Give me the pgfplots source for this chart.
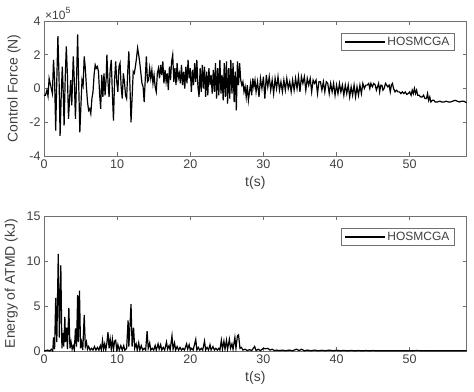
\documentclass[border=0pt]{standalone}
\usepackage{pgfplots}
\pgfplotsset{compat=1.18}
\usepackage{fontspec}
\setmainfont{Liberation Sans}
\definecolor{txt}{HTML}{404040}
\definecolor{axc}{HTML}{707070}
\pgfplotsset{
  mystyle/.style={
    scale only axis, width=422.7pt, height=135pt,
    xmin=0, xmax=57.8, xtick={0,10,20,30,40,50},
    tick pos=both, tick align=inside, major tick length=4pt,
    axis line style={axc, line width=0.8pt},
    every tick/.style={axc, line width=0.6pt},
    tick label style={font=\fontsize{12.5}{14}\selectfont, text=txt},
    label style={font=\fontsize{14}{16}\selectfont, text=txt},
    /pgf/number format/assume math mode=true,
    xlabel={t(s)},
    xlabel style={yshift=-1pt},
    ylabel style={yshift=2pt},
    legend style={at={(0.972,0.91)}, anchor=north east, draw=axc, line width=0.8pt,
      font=\fontsize{12}{13}\selectfont, text=txt, inner xsep=3pt, inner ysep=1.5pt,
      legend cell align=left},
    legend image code/.code={\draw[line width=1.2pt] (0cm,0cm) -- (1.4cm,0cm);},
    clip mode=individual,
  }
}
\begin{document}
\begin{tikzpicture}
\begin{axis}[mystyle, at={(44pt,-21pt)}, anchor=north west,
  ymin=-4, ymax=4, ytick={-4,-2,0,2,4},
  ylabel={Control Force (N)}]
\addplot[black, line width=1.2pt] coordinates {
(0.0,-0.4)(0.2,-0.4)(0.4,-0.1)(0.55,-0.45)(0.7,0.6)(0.85,0.3)(1.0,0.0)(1.15,-0.3)(1.3,1.7)(1.45,0.5)
(1.6,-2.5)(1.75,0.5)(1.9,3.1)(2.05,0.8)(2.2,-2.8)(2.35,-0.5)(2.5,1.3)(2.6,0.2)(2.75,-2.2)(2.9,0.6)
(3.05,2.5)(3.2,0.8)(3.35,-1.8)(3.5,-0.6)(3.65,0.5)(3.8,-1.0)(4.0,1.9)(4.15,0.4)(4.3,-1.8)(4.45,0.5)
(4.6,3.2)(4.75,0.2)(4.9,-2.6)(5.05,-1.0)(5.2,0.5)(5.35,0.2)(5.5,1.9)(5.65,1.2)(5.8,0.1)(5.95,-0.8)
(6.1,-1.3)(6.25,-1.2)(6.4,-1.5)(6.55,-0.6)(6.7,-0.2)(6.85,0.8)(7.0,1.4)(7.15,1.2)(7.3,1.3)(7.45,1.0)
(7.6,-0.3)(7.75,-1.2)(7.9,0.8)(8.05,-0.5)(8.2,0.9)(8.35,-0.4)(8.5,0.6)(8.6,2.0)(8.75,0.4)(8.9,-0.5)
(9.05,1.1)(9.2,1.7)(9.35,-0.3)(9.5,-1.9)(9.65,0.5)(9.8,1.6)(9.95,0.4)(10.1,-0.2)(10.25,1.3)(10.4,1.5)
(10.55,0.1)(10.7,-0.6)(10.85,0.9)(11.0,0.4)(11.15,-0.4)(11.3,-0.6)(11.45,1.0)(11.6,2.2)(11.75,0.2)(11.9,-2.0)
(12.05,-0.5)(12.2,1.0)(12.35,0.9)(12.5,1.3)(12.65,1.8)(12.8,2.4)(12.95,2.0)(13.1,1.5)(13.25,0.9)(13.4,0.3)
(13.55,0.1)(13.7,-0.8)(13.85,0.6)(14.0,1.9)(14.15,0.4)(14.3,0.5)(14.45,1.2)(14.6,0.6)(14.75,1.1)(14.9,0.3)
(15.05,0.8)(15.2,0.1)(15.35,-0.2)(15.5,0.9)(15.65,1.2)(15.8,0.6)(15.95,1.4)(16.1,0.8)(16.25,1.6)(16.4,0.3)
(16.55,1.1)(16.7,0.4)(16.85,0.9)(17.0,-0.1)(17.15,1.3)(17.3,0.5)(17.45,1.6)(17.6,2.0)(17.75,0.4)(17.9,1.2)
(18.05,0.2)(18.2,1.5)(18.35,0.6)(18.5,0.9)(18.65,0.3)(18.8,1.4)(18.95,0.2)(19.1,1.0)(19.25,0.0)(19.4,1.3)
(19.55,0.3)(19.7,1.7)(19.85,0.6)(20.0,1.2)(20.15,-0.2)(20.3,1.1)(20.45,0.2)(20.6,1.5)(20.75,0.4)(20.9,1.7)
(21.05,0.1)(21.2,-0.5)(21.35,1.2)(21.5,-0.2)(21.65,1.4)(21.8,0.0)(21.95,1.3)(22.1,-0.5)(22.25,1.0)(22.4,-0.4)
(22.55,1.2)(22.7,0.2)(22.85,0.8)(23.0,-0.3)(23.15,1.1)(23.3,-0.2)(23.45,1.5)(23.6,-0.6)(23.75,1.2)(23.9,-0.4)
(24.05,1.7)(24.2,-0.3)(24.35,0.8)(24.5,-0.7)(24.65,1.5)(24.8,-0.5)(24.95,1.6)(25.1,-0.9)(25.25,1.2)(25.4,-0.6)
(25.55,1.7)(25.7,-0.3)(25.85,1.5)(26.0,-0.8)(26.15,1.0)(26.3,-1.3)(26.45,1.6)(26.6,0.2)(26.75,1.5)(26.9,0.5)
(27.05,0.2)(27.2,0.4)(27.35,-0.2)(27.5,0.1)(27.65,-0.5)(27.8,0.2)(27.95,-0.7)(28.1,-0.2)(28.25,0.3)(28.4,-0.4)
(28.55,0.6)(28.7,0.1)(28.85,0.5)(29.0,-0.2)(29.2,0.4)(29.4,-0.5)(29.6,0.6)(29.8,0.0)(30.0,0.7)(30.2,-0.6)
(30.4,0.8)(30.6,0.1)(30.8,0.7)(31.0,-0.1)(31.2,0.5)(31.4,-0.3)(31.6,0.6)(31.8,0.0)(32.0,0.7)(32.2,-0.1)
(32.4,0.4)(32.6,-0.2)(32.8,0.5)(33.0,-0.1)(33.2,0.6)(33.4,0.0)(33.6,0.4)(33.8,-0.2)(34.0,0.5)(34.2,-0.1)
(34.4,0.6)(34.6,0.0)(34.8,0.7)(35.0,-0.2)(35.2,0.7)(35.4,0.3)(35.6,0.7)(35.8,-0.1)(36.0,0.6)(36.2,0.2)
(36.4,0.6)(36.6,-0.2)(36.8,0.5)(37.0,0.3)(37.2,0.5)(37.4,-0.3)(37.6,0.4)(37.8,0.4)(38.0,-0.1)(38.2,0.4)
(38.4,-0.2)(38.6,0.4)(38.8,0.3)(39.0,-0.3)(39.2,0.3)(39.4,-0.2)(39.6,0.3)(39.8,-0.4)(40.0,0.2)(40.2,-0.3)
(40.4,0.3)(40.6,-0.2)(40.8,0.2)(41.0,-0.4)(41.2,0.2)(41.4,-0.3)(41.6,0.2)(41.8,-0.5)(42.0,0.1)(42.2,-0.4)
(42.4,0.2)(42.6,-0.5)(42.8,0.1)(43.0,-0.4)(43.2,0.2)(43.4,-0.3)(43.6,0.3)(43.8,0.0)
(44.0,0.2)(44.2,0.2)(44.4,0.3)(44.55,0.0)(44.7,0.3)(44.9,0.1)(45.1,0.3)
(45.3,0.2)(45.45,-0.1)(45.6,0.1)(45.75,0.3)(45.9,-0.2)(46.05,0.2)(46.2,0.2)(46.35,-0.1)(46.5,0.0)(46.7,0.3)
(46.85,0.2)(47.0,0.1)(47.2,0.2)(47.35,-0.2)(47.5,0.2)(47.65,0.3)(47.8,0.0)(48.0,-0.2)(48.2,-0.1)(48.4,-0.2)
(48.6,-0.2)(48.8,-0.3)(49.0,-0.2)(49.2,-0.3)(49.4,-0.2)(49.6,-0.35)(49.8,-0.3)(50.0,-0.2)(50.2,-0.4)(50.35,-0.1)
(50.5,-0.3)(50.65,0.0)(50.8,-0.3)(50.95,-0.1)(51.1,-0.4)(51.3,-0.4)(51.5,-0.5)(51.7,-0.5)(51.9,-0.4)(52.1,-0.6)
(52.3,-0.6)(52.45,-0.3)(52.6,-0.7)(52.75,-0.5)(52.9,-0.8)(53.1,-0.7)(53.3,-0.7)(53.5,-0.8)(53.8,-0.8)(54.1,-0.75)
(54.4,-0.8)(54.7,-0.8)(55.0,-0.75)(55.3,-0.8)(55.6,-0.8)(55.9,-0.75)(56.2,-0.7)(56.5,-0.75)(56.8,-0.8)(57.1,-0.75)
(57.4,-0.75)(57.8,-0.85)
};
\addlegendentry{HOSMCGA}
\node[anchor=south west, inner sep=1pt, text=txt, font=\fontsize{12}{13}\selectfont] at (rel axis cs:0,1) {×10\raisebox{0.9ex}{\fontsize{9}{10}\selectfont 5}};
\end{axis}
\begin{axis}[mystyle, at={(44pt,-216pt)}, anchor=north west,
  ymin=0, ymax=15, ytick={0,5,10,15},
  ylabel={Energy of ATMD (kJ)}]
\addplot[black, line width=1.2pt] coordinates {
(0,0)(0.5,0.1)(0.8,0)(1.0,0.2)(1.2,0)(1.3,1.5)(1.45,0.2)(1.6,5.9)(1.75,1.0)(1.95,10.8)
(2.1,1.5)(2.3,9.5)(2.45,0.3)(2.6,2.0)(2.7,0.5)(2.85,3.8)(2.95,1.0)(3.1,2.6)(3.2,0.2)(3.4,4.8)
(3.55,0.3)(3.7,1.0)(3.85,0.2)(4.0,0.6)(4.15,0.1)(4.3,2.5)(4.45,0.5)(4.6,6.2)(4.7,1.0)(4.85,6.7)
(5.0,0.3)(5.15,1.0)(5.3,0.1)(5.5,4.0)(5.65,0.5)(5.8,1.0)(5.95,0.2)(6.1,0.5)(6.3,0.1)(6.5,0.3)
(6.7,0.1)(6.9,0.5)(7.1,0.1)(7.3,0.4)(7.5,0.1)(7.7,0.6)(7.85,0.1)(8.0,1.2)(8.15,0.2)(8.3,0.8)
(8.45,0.1)(8.6,0.9)(8.75,2.1)(8.9,0.3)(9.05,1.3)(9.2,0.2)(9.35,1.3)(9.5,0.1)(9.65,1.1)(9.8,1.2)
(9.95,0.1)(10.1,0.7)(10.3,0.1)(10.5,0.6)(10.7,0.1)(10.9,0.6)(11.05,0.1)(11.3,0.3)(11.5,3.4)(11.6,0.5)
(11.8,3.5)(11.9,5.2)(12.05,0.5)(12.25,2.6)(12.4,0.3)(12.6,0.8)(12.75,0.1)(12.95,0.9)(13.1,0.1)(13.3,0.6)
(13.5,0.1)(13.7,0.3)(13.9,0.1)(14.1,2.2)(14.25,0.3)(14.45,0.9)(14.6,0.1)(14.8,0.3)(15.0,0.1)(15.2,0.6)
(15.35,0.1)(15.6,0.8)(15.75,0.2)(15.95,0.7)(16.1,0.1)(16.3,0.4)(16.5,0.1)(16.75,1.0)(16.9,0.2)(17.1,0.6)
(17.25,0.1)(17.5,1.7)(17.65,0.2)(17.85,0.9)(18.0,0.1)(18.2,0.5)(18.4,0.1)(18.6,0.4)(18.8,0.1)(19.0,0.3)
(19.2,0.1)(19.5,0.8)(19.65,0.2)(19.85,0.7)(20.0,0.1)(20.2,0.3)(20.4,0.1)(20.75,1.3)(20.9,0.1)(21.1,0.4)
(21.3,0.1)(21.5,0.3)(21.7,0.1)(21.95,1.1)(22.1,0.1)(22.3,0.4)(22.5,0.1)(22.7,0.7)(22.85,0.1)(23.1,0.5)
(23.3,0.1)(23.5,0.3)(23.7,0.1)(23.9,0.3)(24.05,0.1)(24.25,1.2)(24.4,0.2)(24.6,1.1)(24.75,0.2)(24.95,1.2)
(25.1,0.2)(25.35,1.3)(25.5,0.3)(25.7,0.8)(25.85,0.2)(26.1,1.5)(26.25,0.3)(26.45,1.7)(26.6,1.8)(26.8,0.3)
(27.0,0.4)(27.2,0.1)(27.5,0.2)(27.8,0.05)(28.1,0.15)(28.4,0.05)(28.8,0.5)(29.0,0.05)(29.3,0.2)(29.6,0.05)
(30.0,0.3)(30.3,0.25)(30.6,0.3)(30.9,0.1)(31.2,0.2)(31.5,0.05)(31.8,0.1)(32.2,0.05)(32.6,0.1)(33.0,0.03)
(33.5,0.1)(34.0,0.03)(34.5,0.2)(34.9,0.05)(35.2,0.2)(35.6,0.03)(36.0,0.1)(36.5,0.03)(37.0,0.1)(37.5,0.03)
(38.0,0.08)(38.5,0.03)(39.0,0.1)(39.5,0.03)(40.0,0.08)(40.5,0.03)(41.0,0.06)(41.5,0.02)(42.0,0.06)(42.5,0.02)
(43.0,0.05)(43.5,0.02)(44.0,0.05)(44.5,0.02)(45.0,0.05)(45.5,0.02)(46.0,0.04)(46.5,0.02)(47.0,0.04)(47.5,0.02)
(48.0,0.04)(48.5,0.02)(49.0,0.03)(50,0.02)(51,0.05)(52,0.02)(53,0.04)(54,0.02)(55,0.04)(56,0.02)
(57,0.03)(57.8,0.02)
};
\addlegendentry{HOSMCGA}
\end{axis}
\pgfresetboundingbox
\path[use as bounding box] (0,0) rectangle (474pt,-391pt);
\end{tikzpicture}
\end{document}
